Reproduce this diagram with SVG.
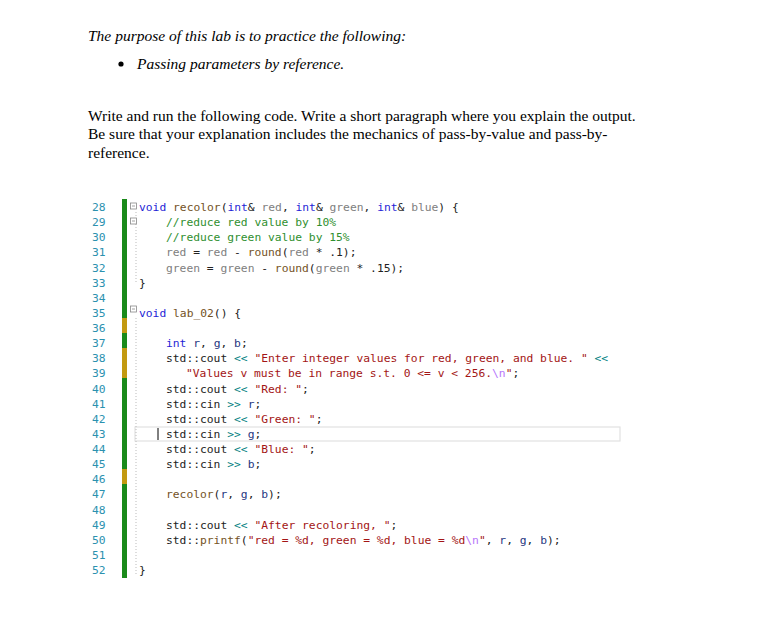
<svg xmlns="http://www.w3.org/2000/svg" width="760" height="629" viewBox="0 0 760 629">
<style>
.t{font-family:"Liberation Serif",serif;font-size:15.5px;fill:#000}
.i{font-style:italic}
.c{font-family:"DejaVu Sans Mono",monospace;font-size:11.3px;fill:#222;white-space:pre}
.n{font-family:"DejaVu Sans Mono",monospace;font-size:11.3px;fill:#2b91af}
.k{fill:#1f1fd6}.cm{fill:#2f8f2f}.p{fill:#808080}.s{fill:#a31515}.o{fill:#008080}.f{fill:#74531f}.v{fill:#1f377f}.e{fill:#b776fb}
</style>
<rect width="760" height="629" fill="#fff"/>
<g id="intro">
<text class="t i" x="88" y="41">The purpose of this lab is to practice the following:</text>
<circle cx="121" cy="64" r="2.6" fill="#000"/>
<text class="t i" x="137" y="69">Passing parameters by reference.</text>
<text class="t" x="88" y="121">Write and run the following code. Write a short paragraph where you explain the output.</text>
<text class="t" x="88" y="139">Be sure that your explanation includes the mechanics of pass-by-value and pass-by-</text>
<text class="t" x="88" y="158">reference.</text>
</g>
<g id="editor">
<rect x="122" y="199" width="5" height="379" fill="#1a8a1a"/>
<rect x="122" y="318" width="5" height="15" fill="#c39a10"/>
<rect x="122" y="348" width="5" height="30" fill="#c39a10"/>
<rect x="122" y="469" width="5" height="15" fill="#c39a10"/>
<rect x="135" y="427" width="485" height="14" fill="none" stroke="#e2e2e2" stroke-width="1.2"/>
<line x1="136" y1="212" x2="136" y2="282" stroke="#bbb" stroke-dasharray="1,2"/>
<line x1="136" y1="318" x2="136" y2="575" stroke="#bbb" stroke-dasharray="1,2"/>
<g fill="#fff" stroke="#888" stroke-width="0.8">
<rect x="130.5" y="203" width="6" height="6"/><rect x="130.5" y="218" width="6" height="6"/><rect x="130.5" y="306" width="6" height="6"/>
</g>
<g stroke="#888" stroke-width="0.8"><line x1="132" y1="206" x2="135" y2="206"/><line x1="132" y1="221" x2="135" y2="221"/><line x1="132" y1="309" x2="135" y2="309"/></g>
<line x1="158" y1="428" x2="158" y2="440" stroke="#000"/>
<g class="n">
<text x="92" y="211">28</text><text x="92" y="226">29</text><text x="92" y="241">30</text><text x="92" y="256">31</text><text x="92" y="272">32</text><text x="92" y="287">33</text><text x="92" y="302">34</text><text x="92" y="317">35</text><text x="92" y="332">36</text><text x="92" y="347">37</text><text x="92" y="362">38</text><text x="92" y="377">39</text><text x="92" y="393">40</text><text x="92" y="408">41</text><text x="92" y="423">42</text><text x="92" y="438">43</text><text x="92" y="453">44</text><text x="92" y="468">45</text><text x="92" y="483">46</text><text x="92" y="498">47</text><text x="92" y="514">48</text><text x="92" y="529">49</text><text x="92" y="544">50</text><text x="92" y="559">51</text><text x="92" y="574">52</text>
</g>
<g class="c">
<text x="139" y="211"><tspan class="k">void</tspan> <tspan class="f">recolor</tspan>(<tspan class="k">int</tspan>&amp; <tspan class="p">red</tspan>, <tspan class="k">int</tspan>&amp; <tspan class="p">green</tspan>, <tspan class="k">int</tspan>&amp; <tspan class="p">blue</tspan>) {</text>
<text x="166" y="226" class="cm">//reduce red value by 10%</text>
<text x="166" y="241" class="cm">//reduce green value by 15%</text>
<text x="166" y="256"><tspan class="p">red</tspan> = <tspan class="p">red</tspan> - <tspan class="f">round</tspan>(<tspan class="p">red</tspan> * .1);</text>
<text x="166" y="272"><tspan class="p">green</tspan> = <tspan class="p">green</tspan> - <tspan class="f">round</tspan>(<tspan class="p">green</tspan> * .15);</text>
<text x="139" y="287">}</text>
<text x="139" y="317"><tspan class="k">void</tspan> <tspan class="f">lab_02</tspan>() {</text>
<text x="166" y="347"><tspan class="k">int</tspan> <tspan class="v">r</tspan>, <tspan class="v">g</tspan>, <tspan class="v">b</tspan>;</text>
<text x="166" y="362">std::cout <tspan class="o">&lt;&lt;</tspan> <tspan class="s">"Enter integer values for red, green, and blue. "</tspan> <tspan class="o">&lt;&lt;</tspan></text>
<text x="186" y="377"><tspan class="s">"Values v must be in range s.t. 0 &lt;= v &lt; 256.</tspan><tspan class="e">\n</tspan><tspan class="s">"</tspan>;</text>
<text x="166" y="393">std::cout <tspan class="o">&lt;&lt;</tspan> <tspan class="s">"Red: "</tspan>;</text>
<text x="166" y="408">std::cin <tspan class="o">&gt;&gt;</tspan> <tspan class="v">r</tspan>;</text>
<text x="166" y="423">std::cout <tspan class="o">&lt;&lt;</tspan> <tspan class="s">"Green: "</tspan>;</text>
<text x="166" y="438">std::cin <tspan class="o">&gt;&gt;</tspan> <tspan class="v">g</tspan>;</text>
<text x="166" y="453">std::cout <tspan class="o">&lt;&lt;</tspan> <tspan class="s">"Blue: "</tspan>;</text>
<text x="166" y="468">std::cin <tspan class="o">&gt;&gt;</tspan> <tspan class="v">b</tspan>;</text>
<text x="166" y="498"><tspan class="f">recolor</tspan>(<tspan class="v">r</tspan>, <tspan class="v">g</tspan>, <tspan class="v">b</tspan>);</text>
<text x="166" y="529">std::cout <tspan class="o">&lt;&lt;</tspan> <tspan class="s">"After recoloring, "</tspan>;</text>
<text x="166" y="544">std::<tspan class="f">printf</tspan>(<tspan class="s">"red = %d, green = %d, blue = %d</tspan><tspan class="e">\n</tspan><tspan class="s">"</tspan>, <tspan class="v">r</tspan>, <tspan class="v">g</tspan>, <tspan class="v">b</tspan>);</text>
<text x="139" y="574">}</text>
</g>
</g>
</svg>
